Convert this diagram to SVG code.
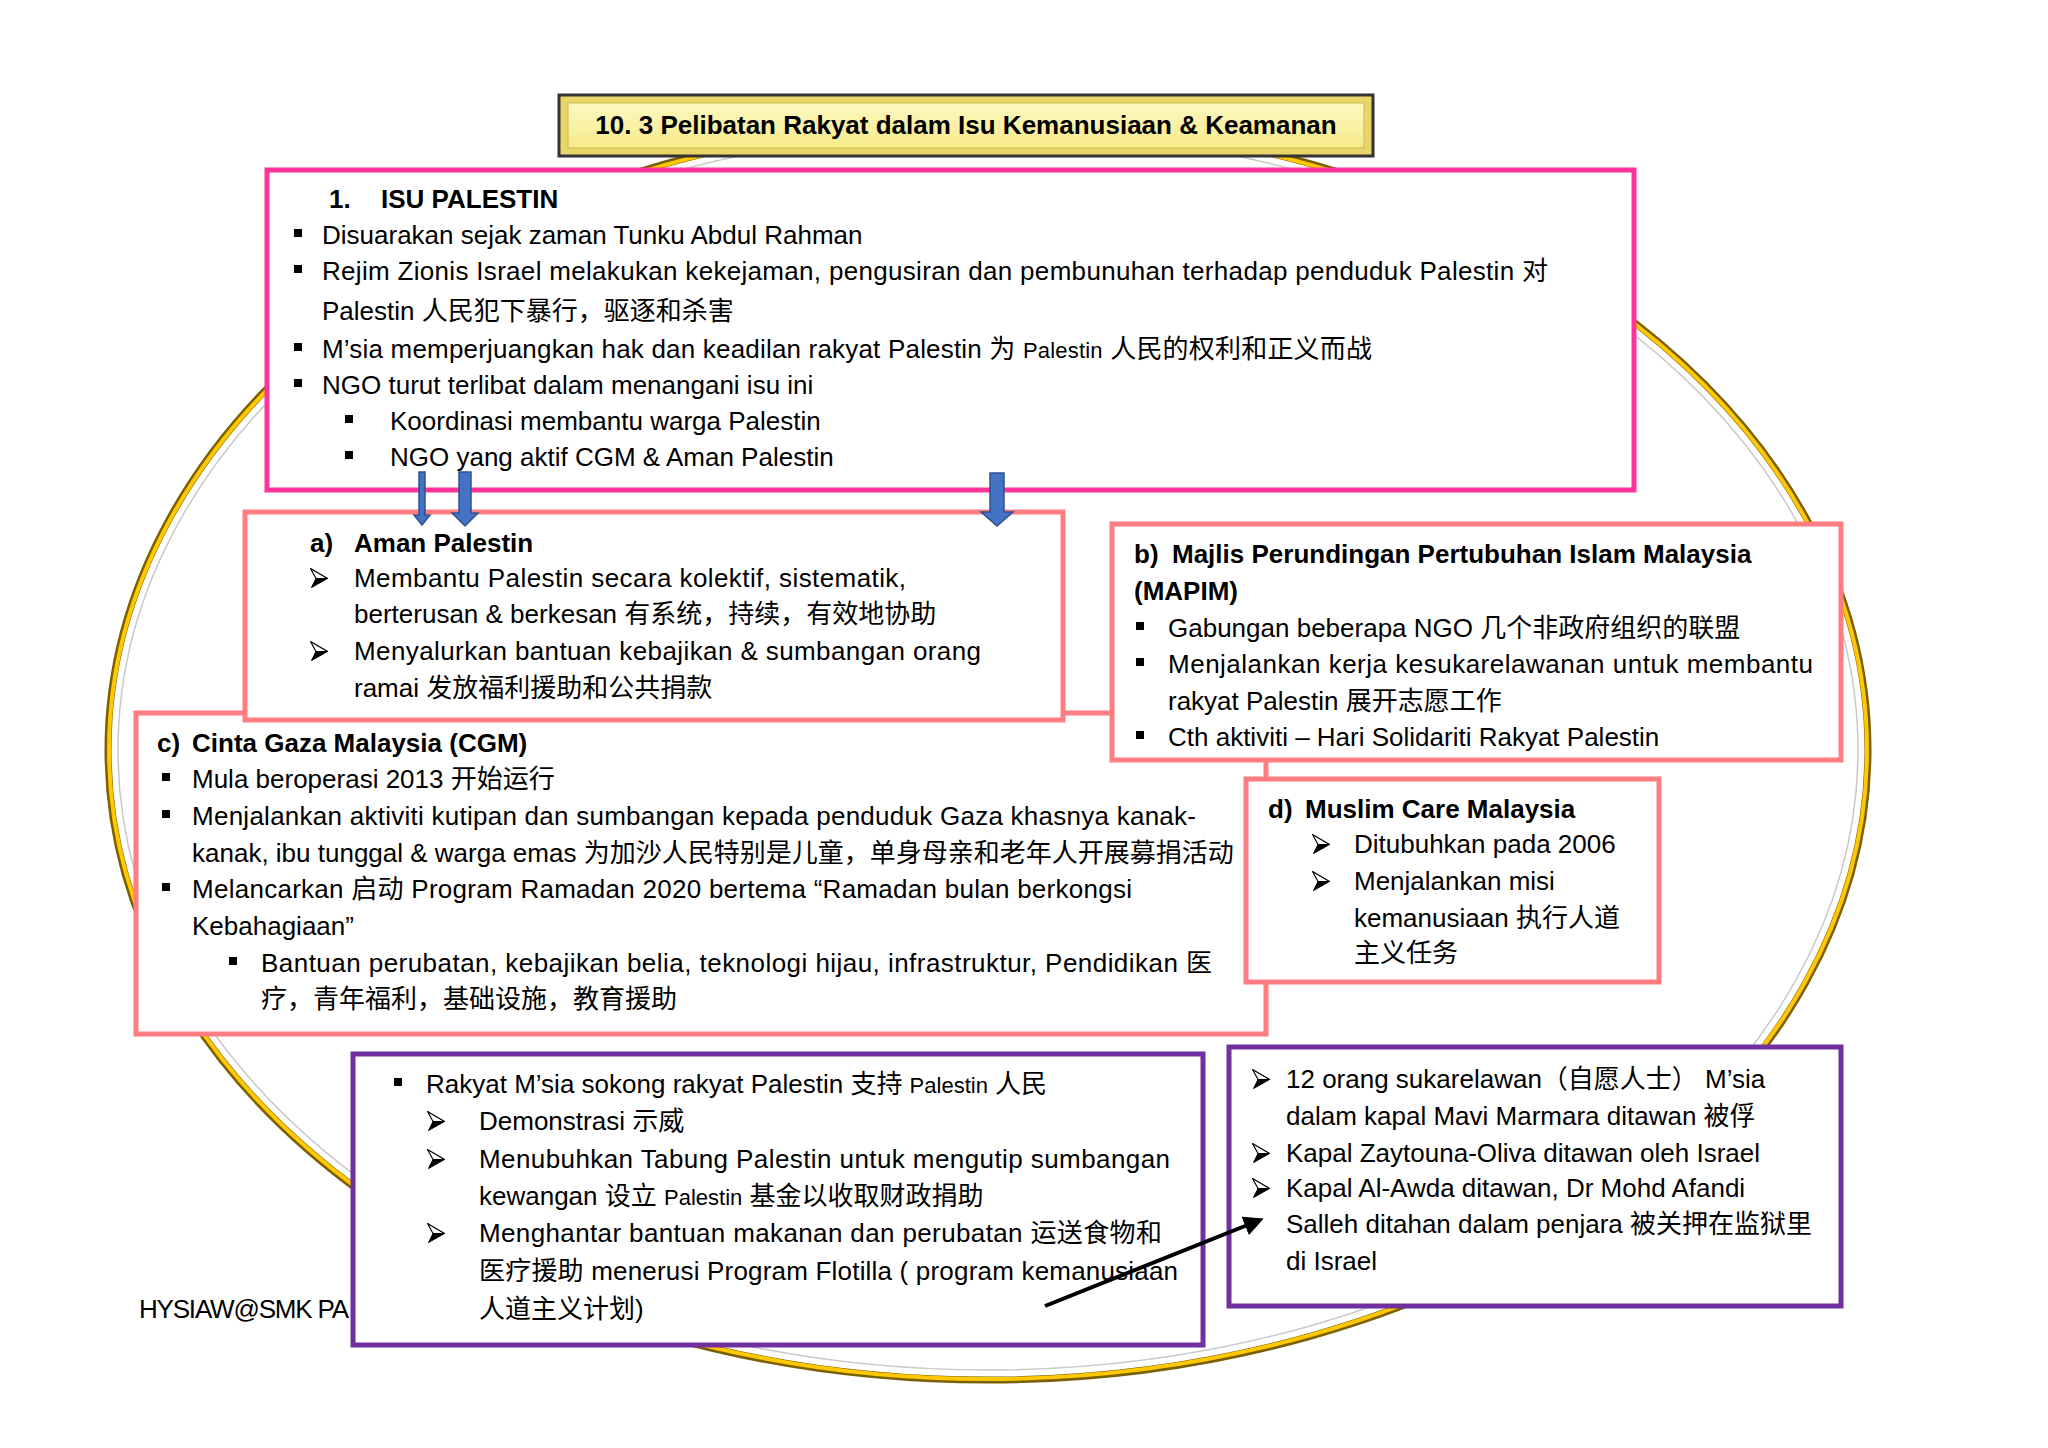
<svg xmlns="http://www.w3.org/2000/svg" width="2048" height="1448" viewBox="0 0 2048 1448">
<defs>
<style>
.t{font-family:"Liberation Sans","Noto Sans CJK SC",sans-serif;font-size:26px;fill:#000}
.b{font-weight:bold}
.s{font-size:22px}
.pink{fill:#fff;stroke:#FF3399;stroke-width:5}
.sal{fill:#fff;stroke:#FF7C80;stroke-width:5}
.pur{fill:#fff;stroke:#7030A0;stroke-width:5}
.blu{fill:#4472C4;stroke:#2F528F;stroke-width:1.5}
</style>
<linearGradient id="tg" x1="0" y1="0" x2="0" y2="1">
<stop offset="0" stop-color="#FDF8C0"/>
<stop offset="1" stop-color="#F6EA8A"/>
</linearGradient>
<symbol id="ab" viewBox="0 0 18 20" width="18" height="20">
<polygon points="0.5,0.5 17.5,10.5 6,10.5" fill="#fff" stroke="#000" stroke-width="1.2" stroke-linejoin="miter"/>
<polygon points="6,10.5 17.5,10.5 1.5,19.5" fill="#000" stroke="#000" stroke-width="1"/>
</symbol>
<rect id="sq" width="8" height="8" fill="#000"/>
<marker id="ah" viewBox="0 0 10 10" refX="8" refY="5" markerWidth="5" markerHeight="5" orient="auto" markerUnits="strokeWidth">
<path d="M0,0 L10,5 L0,10 z" fill="#000"/>
</marker>
</defs>
<rect width="2048" height="1448" fill="#fff"/>

<g id="ring">
<ellipse cx="988" cy="750" rx="870" ry="620" fill="none" stroke="#c9c9c9" stroke-width="1.5"/>
<ellipse cx="988" cy="750" rx="880" ry="630" fill="none" stroke="#7a6000" stroke-width="7"/>
<ellipse cx="988" cy="750" rx="879" ry="629" fill="none" stroke="#FFC800" stroke-width="4"/>
</g>

<g id="title">
<rect x="559" y="95" width="814" height="61" fill="#EAD668" stroke="#333" stroke-width="3"/>
<rect x="568" y="103" width="796" height="45" fill="url(#tg)" stroke="#cbb84e" stroke-width="1"/>
<text class="t b" x="966" y="134" text-anchor="middle" font-size="25">10. 3  Pelibatan Rakyat dalam Isu Kemanusiaan &amp; Keamanan</text>
</g>

<g id="isu-palestin">
<rect class="pink" x="267" y="170" width="1367" height="320"/>
<text class="t b" x="329" y="208">1.</text>
<text class="t b" x="381" y="208">ISU PALESTIN</text>
<use href="#sq" x="294" y="229"/>
<text class="t" x="322" y="244">Disuarakan sejak zaman Tunku Abdul Rahman</text>
<use href="#sq" x="294" y="265"/>
<text class="t" x="322" y="280" textLength="1226">Rejim Zionis Israel melakukan kekejaman, pengusiran dan pembunuhan terhadap penduduk Palestin 对</text>
<text class="t" x="322" y="320">Palestin 人民犯下暴行，驱逐和杀害</text>
<use href="#sq" x="294" y="343"/>
<text class="t" x="322" y="358" textLength="1050">M’sia memperjuangkan hak dan keadilan rakyat Palestin 为 <tspan class="s">Palestin</tspan> 人民的权利和正义而战</text>
<use href="#sq" x="294" y="379"/>
<text class="t" x="322" y="394">NGO turut terlibat dalam menangani isu ini</text>
<use href="#sq" x="345" y="415"/>
<text class="t" x="390" y="430">Koordinasi membantu warga Palestin</text>
<use href="#sq" x="345" y="451"/>
<text class="t" x="390" y="466">NGO yang aktif CGM &amp; Aman Palestin</text>
</g>

<g id="cgm">
<rect class="sal" x="136" y="713" width="1130" height="321"/>
<text class="t b" x="157" y="752">c)</text>
<text class="t b" x="192" y="752">Cinta Gaza Malaysia (CGM)</text>
<use href="#sq" x="162" y="773"/>
<text class="t" x="192" y="788">Mula beroperasi 2013 开始运行</text>
<use href="#sq" x="162" y="810"/>
<text class="t" x="192" y="825" textLength="1004">Menjalankan aktiviti kutipan dan sumbangan kepada penduduk Gaza khasnya kanak-</text>
<text class="t" x="192" y="862">kanak, ibu tunggal &amp; warga emas 为加沙人民特别是儿童，单身母亲和老年人开展募捐活动</text>
<use href="#sq" x="162" y="883"/>
<text class="t" x="192" y="898" textLength="940">Melancarkan 启动 Program Ramadan 2020 bertema “Ramadan bulan berkongsi</text>
<text class="t" x="192" y="935">Kebahagiaan”</text>
<use href="#sq" x="229" y="957"/>
<text class="t" x="261" y="972" textLength="951">Bantuan perubatan, kebajikan belia, teknologi hijau, infrastruktur, Pendidikan 医</text>
<text class="t" x="261" y="1008">疗，青年福利，基础设施，教育援助</text>
</g>

<g id="aman-palestin">
<rect class="sal" x="245" y="512" width="818" height="208"/>
<text class="t b" x="310" y="552">a)</text>
<text class="t b" x="354" y="552">Aman Palestin</text>
<use href="#ab" x="310" y="568"/>
<text class="t" x="354" y="587" textLength="552">Membantu Palestin secara kolektif, sistematik,</text>
<text class="t" x="354" y="623">berterusan &amp; berkesan 有系统，持续，有效地协助</text>
<use href="#ab" x="310" y="641"/>
<text class="t" x="354" y="660" textLength="627">Menyalurkan bantuan kebajikan &amp; sumbangan orang</text>
<text class="t" x="354" y="697">ramai 发放福利援助和公共捐款</text>
</g>

<g id="mapim">
<rect class="sal" x="1112" y="524" width="729" height="236"/>
<text class="t b" x="1134" y="563">b)</text>
<text class="t b" x="1172" y="563">Majlis Perundingan Pertubuhan Islam Malaysia</text>
<text class="t b" x="1134" y="600">(MAPIM)</text>
<use href="#sq" x="1136" y="622"/>
<text class="t" x="1168" y="637">Gabungan beberapa NGO 几个非政府组织的联盟</text>
<use href="#sq" x="1136" y="658"/>
<text class="t" x="1168" y="673" textLength="645">Menjalankan kerja kesukarelawanan untuk membantu</text>
<text class="t" x="1168" y="710">rakyat Palestin 展开志愿工作</text>
<use href="#sq" x="1136" y="731"/>
<text class="t" x="1168" y="746">Cth aktiviti – Hari Solidariti Rakyat Palestin</text>
</g>

<g id="muslim-care">
<rect class="sal" x="1246" y="779" width="413" height="203"/>
<text class="t b" x="1268" y="818">d)</text>
<text class="t b" x="1305" y="818">Muslim Care Malaysia</text>
<use href="#ab" x="1312" y="834"/>
<text class="t" x="1354" y="853">Ditubuhkan pada 2006</text>
<use href="#ab" x="1312" y="871"/>
<text class="t" x="1354" y="890">Menjalankan misi</text>
<text class="t" x="1354" y="927">kemanusiaan 执行人道</text>
<text class="t" x="1354" y="962">主义任务</text>
</g>

<text class="t" x="139" y="1318" font-size="23" textLength="210">HYSIAW@SMK PA</text>

<g id="sokongan">
<rect class="pur" x="353" y="1054" width="850" height="291"/>
<use href="#sq" x="394" y="1078"/>
<text class="t" x="426" y="1093">Rakyat M’sia sokong rakyat Palestin 支持 <tspan class="s">Palestin</tspan> 人民</text>
<use href="#ab" x="427" y="1111"/>
<text class="t" x="479" y="1130">Demonstrasi 示威</text>
<use href="#ab" x="427" y="1149"/>
<text class="t" x="479" y="1168" textLength="691">Menubuhkan Tabung Palestin untuk mengutip sumbangan</text>
<text class="t" x="479" y="1205">kewangan 设立 <tspan class="s">Palestin</tspan> 基金以收取财政捐助</text>
<use href="#ab" x="427" y="1223"/>
<text class="t" x="479" y="1242" textLength="683">Menghantar bantuan makanan dan perubatan 运送食物和</text>
<text class="t" x="479" y="1280" textLength="699">医疗援助 menerusi Program Flotilla ( program kemanusiaan</text>
<text class="t" x="479" y="1318">人道主义计划)</text>
</g>

<g id="flotilla">
<rect class="pur" x="1229" y="1047" width="612" height="259"/>
<use href="#ab" x="1252" y="1069"/>
<text class="t" x="1286" y="1088">12 orang sukarelawan（自愿人士） M’sia</text>
<text class="t" x="1286" y="1125">dalam kapal Mavi Marmara ditawan 被俘</text>
<use href="#ab" x="1252" y="1143"/>
<text class="t" x="1286" y="1162">Kapal Zaytouna-Oliva ditawan oleh Israel</text>
<use href="#ab" x="1252" y="1178"/>
<text class="t" x="1286" y="1197">Kapal Al-Awda ditawan, Dr Mohd Afandi</text>
<text class="t" x="1286" y="1233">Salleh ditahan dalam penjara 被关押在监狱里</text>
<text class="t" x="1286" y="1270">di Israel</text>
</g>

<g id="connectors">
<polygon class="blu" points="419,472 425,472 425,515 430,515 422,525 414,515 419,515"/>
<polygon class="blu" points="459,472 471,472 471,513 478,513 465,526 452,513 459,513"/>
<polygon class="blu" points="990,473 1004,473 1004,512 1013,512 997,526 981,512 990,512"/>
<line x1="1045" y1="1306" x2="1260" y2="1220" stroke="#000" stroke-width="4" marker-end="url(#ah)"/>
</g>
</svg>
